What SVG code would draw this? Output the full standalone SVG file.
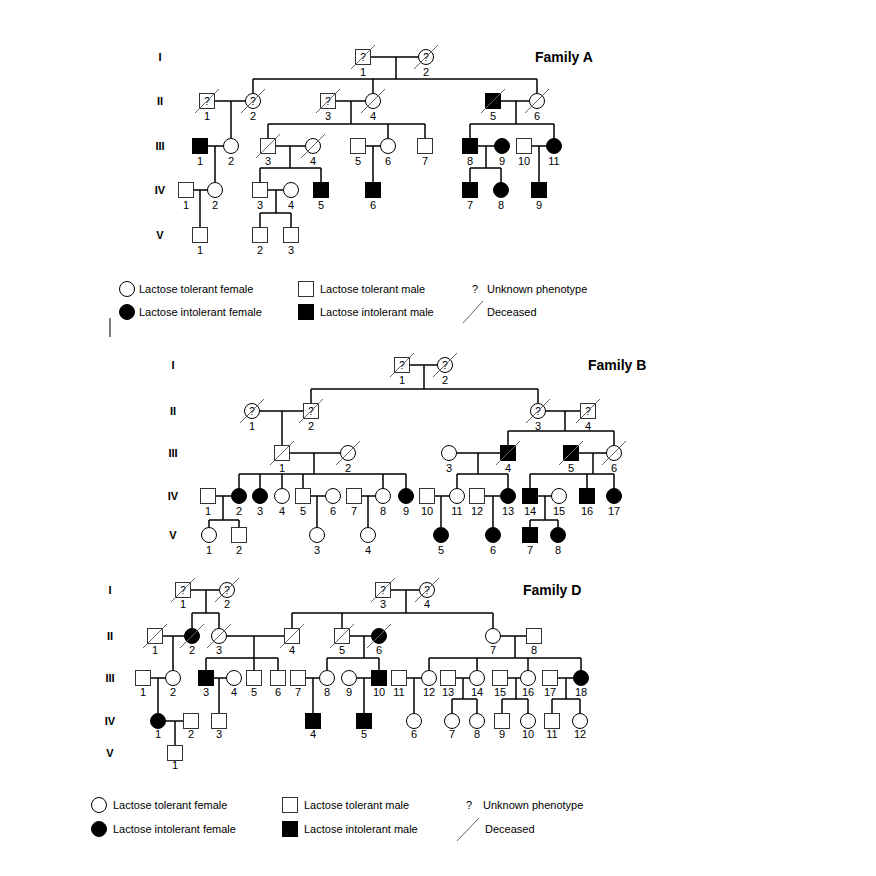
<svg xmlns="http://www.w3.org/2000/svg" xmlns:xlink="http://www.w3.org/1999/xlink" width="876" height="876" viewBox="0 0 876 876">
<style>
text{font-family:"Liberation Sans",Arial,sans-serif;font-size:11px;fill:#000}
.n{text-anchor:middle}
.q{text-anchor:middle;font-size:10px}
.g{font-weight:bold;text-anchor:middle}
.fam{font-weight:bold;font-size:14px}
.c path{fill:none;stroke:#000;stroke-width:1.5}
</style>
<defs>
<rect id="m" x="-7.5" y="-7.5" width="15" height="15" fill="#fff" stroke="#333" stroke-width="1"/>
<rect id="M" x="-7.5" y="-7.5" width="15" height="15" fill="#000" stroke="#000" stroke-width="1"/>
<circle id="f" r="7.5" fill="#fff" stroke="#000" stroke-width="1"/>
<circle id="F" r="7.5" fill="#000" stroke="#000" stroke-width="1"/>
<line id="s" x1="-12" y1="12" x2="12" y2="-12" stroke="#666" stroke-width="1"/>
</defs>
<rect width="876" height="876" fill="#fff"/>

<!-- generation labels -->
<g id="genA"><text class="g" x="160" y="61">I</text><text class="g" x="160" y="105">II</text><text class="g" x="160" y="150">III</text><text class="g" x="160" y="194">IV</text><text class="g" x="160" y="239">V</text></g>
<g id="genB"><text class="g" x="173" y="369">I</text><text class="g" x="173" y="415">II</text><text class="g" x="173" y="457">III</text><text class="g" x="173" y="500">IV</text><text class="g" x="173" y="539">V</text></g>
<g id="genD"><text class="g" x="110" y="594">I</text><text class="g" x="110" y="640">II</text><text class="g" x="110" y="682">III</text><text class="g" x="110" y="725">IV</text><text class="g" x="110" y="757">V</text></g>
<text class="fam" x="535" y="62">Family A</text>
<text class="fam" x="588" y="370">Family B</text>
<text class="fam" x="523" y="595">Family D</text>

<g class="c" id="connectors">
<path d="M363 57H426M396 57V79M253 79H537M253 79V93.5M373 79V93.5M537 79V93.5"/>
<path d="M207 101H253M231 101V138.5M328 101H373M351 101V124M268 124H425M268 124V138.5M388 124V138.5M425 124V138.5M493 101H537M516 101V124M470 124H554M470 124V138.5M554 124V138.5"/>
<path d="M200 146H231M215 146V182.5M268 146H313M290 146V168M260 168H321M260 168V182.5M321 168V182.5M358 146H388M373 146V182.5M470 146H502M486 146V168M470 168H501M470 168V182.5M501 168V182.5M524 146H554M539 146V182.5"/>
<path d="M186 190H215M200 190V227.5M260 190H291M276 190V213M260 213H291M260 213V227.5M291 213V227.5"/>
<path d="M402 365H445M424 365V389M311 389H538M311 389V403.5M538 389V403.5M252 411H311M282 411V445.5M538 411H588M565 411V431M508 431H614M508 431V445.5M614 431V445.5"/>
<path d="M282 453H348M314 453V474M239 474H406M239 474V488.5M260 474V488.5M282 474V488.5M303 474V488.5M383 474V488.5M406 474V488.5M449 453H508M478 453V474M457 474H508M457 474V488.5M508 474V488.5M571 453H614M593 453V474M530 474H614M530 474V488.5M587 474V488.5M614 474V488.5"/>
<path d="M208 496H239M223 496V520M209 520H239M209 520V527.5M239 520V527.5M303 496H333M317 496V527.5M354 496H383M368 496V527.5M427 496H457M441 496V527.5M477 496H508M493 496V527.5M530 496H559M545 496V520M530 520H558M530 520V527.5M558 520V527.5"/>
<path d="M183 590H227M206 590V613M192 613H219M192 613V628.5M219 613V628.5M383 590H427M406 590V613M292 613H493M292 613V628.5M342 613V628.5M493 613V628.5"/>
<path d="M155 636H192M173 636V670.5M219 636H292M254 636V658M206 658H278M206 658V670.5M254 658V670.5M278 658V670.5M342 636H379M364 636V658M327 658H379M327 658V670.5M379 658V670.5M493 636H534M515 636V658M429 658H581M429 658V670.5M477 658V670.5M528 658V670.5M581 658V670.5"/>
<path d="M143 678H173M158 678V713.5M206 678H234M219 678V713.5M298 678H327M313 678V713.5M349 678H379M364 678V713.5M399 678H429M414 678V713.5M448 678H477M463 678V699M452 699H477M452 699V713.5M477 699V713.5M500 678H528M516 678V699M502 699H528M502 699V713.5M528 699V713.5M550 678H581M566 678V699M552 699H580M552 699V713.5M580 699V713.5M158 721H191M175 721V745.5"/>
</g>

<!-- Family A -->
<g id="A-I-1" transform="translate(363,57)"><use href="#m"/><text class="q" y="4">?</text><use href="#s"/><text class="n" y="19">1</text></g>
<g id="A-I-2" transform="translate(426,57)"><use href="#f"/><text class="q" y="4">?</text><use href="#s"/><text class="n" y="19">2</text></g>
<g id="A-II-1" transform="translate(207,101)"><use href="#m"/><text class="q" y="4">?</text><use href="#s"/><text class="n" y="19">1</text></g>
<g id="A-II-2" transform="translate(253,101)"><use href="#f"/><text class="q" y="4">?</text><use href="#s"/><text class="n" y="19">2</text></g>
<g id="A-II-3" transform="translate(328,101)"><use href="#m"/><text class="q" y="4">?</text><use href="#s"/><text class="n" y="19">3</text></g>
<g id="A-II-4" transform="translate(373,101)"><use href="#f"/><use href="#s"/><text class="n" y="19">4</text></g>
<g id="A-II-5" transform="translate(493,101)"><use href="#M"/><use href="#s"/><text class="n" y="19">5</text></g>
<g id="A-II-6" transform="translate(537,101)"><use href="#f"/><use href="#s"/><text class="n" y="19">6</text></g>
<g id="A-III-1" transform="translate(200,146)"><use href="#M"/><text class="n" y="19">1</text></g>
<g id="A-III-2" transform="translate(231,146)"><use href="#f"/><text class="n" y="19">2</text></g>
<g id="A-III-3" transform="translate(268,146)"><use href="#m"/><use href="#s"/><text class="n" y="19">3</text></g>
<g id="A-III-4" transform="translate(313,146)"><use href="#f"/><use href="#s"/><text class="n" y="19">4</text></g>
<g id="A-III-5" transform="translate(358,146)"><use href="#m"/><text class="n" y="19">5</text></g>
<g id="A-III-6" transform="translate(388,146)"><use href="#f"/><text class="n" y="19">6</text></g>
<g id="A-III-7" transform="translate(425,146)"><use href="#m"/><text class="n" y="19">7</text></g>
<g id="A-III-8" transform="translate(470,146)"><use href="#M"/><text class="n" y="19">8</text></g>
<g id="A-III-9" transform="translate(502,146)"><use href="#F"/><text class="n" y="19">9</text></g>
<g id="A-III-10" transform="translate(524,146)"><use href="#m"/><text class="n" y="19">10</text></g>
<g id="A-III-11" transform="translate(554,146)"><use href="#F"/><text class="n" y="19">11</text></g>
<g id="A-IV-1" transform="translate(186,190)"><use href="#m"/><text class="n" y="19">1</text></g>
<g id="A-IV-2" transform="translate(215,190)"><use href="#f"/><text class="n" y="19">2</text></g>
<g id="A-IV-3" transform="translate(260,190)"><use href="#m"/><text class="n" y="19">3</text></g>
<g id="A-IV-4" transform="translate(291,190)"><use href="#f"/><text class="n" y="19">4</text></g>
<g id="A-IV-5" transform="translate(321,190)"><use href="#M"/><text class="n" y="19">5</text></g>
<g id="A-IV-6" transform="translate(373,190)"><use href="#M"/><text class="n" y="19">6</text></g>
<g id="A-IV-7" transform="translate(470,190)"><use href="#M"/><text class="n" y="19">7</text></g>
<g id="A-IV-8" transform="translate(501,190)"><use href="#F"/><text class="n" y="19">8</text></g>
<g id="A-IV-9" transform="translate(539,190)"><use href="#M"/><text class="n" y="19">9</text></g>
<g id="A-V-1" transform="translate(200,235)"><use href="#m"/><text class="n" y="19">1</text></g>
<g id="A-V-2" transform="translate(260,235)"><use href="#m"/><text class="n" y="19">2</text></g>
<g id="A-V-3" transform="translate(291,235)"><use href="#m"/><text class="n" y="19">3</text></g>

<!-- Legend A -->
<g id="legendA">
<use href="#f" x="127" y="289"/><text x="139" y="293">Lactose tolerant female</text>
<use href="#m" x="306" y="289"/><text x="320" y="293">Lactose tolerant male</text>
<text x="472" y="293">?</text><text x="487" y="293">Unknown phenotype</text>
<use href="#F" x="127" y="312"/><text x="139" y="316">Lactose intolerant female</text>
<use href="#M" x="306" y="312"/><text x="320" y="316">Lactose intolerant male</text>
<line x1="463" y1="323" x2="483" y2="301" stroke="#666" stroke-width="1"/><text x="487" y="316">Deceased</text>
<line x1="110" y1="318" x2="110" y2="337" stroke="#000" stroke-width="1"/>
</g>

<!-- Family B -->
<g id="B-I-1" transform="translate(402,365)"><use href="#m"/><text class="q" y="4">?</text><use href="#s"/><text class="n" y="19">1</text></g>
<g id="B-I-2" transform="translate(445,365)"><use href="#f"/><text class="q" y="4">?</text><use href="#s"/><text class="n" y="19">2</text></g>
<g id="B-II-1" transform="translate(252,411)"><use href="#f"/><text class="q" y="4">?</text><use href="#s"/><text class="n" y="19">1</text></g>
<g id="B-II-2" transform="translate(311,411)"><use href="#m"/><text class="q" y="4">?</text><use href="#s"/><text class="n" y="19">2</text></g>
<g id="B-II-3" transform="translate(538,411)"><use href="#f"/><text class="q" y="4">?</text><use href="#s"/><text class="n" y="19">3</text></g>
<g id="B-II-4" transform="translate(588,411)"><use href="#m"/><text class="q" y="4">?</text><use href="#s"/><text class="n" y="19">4</text></g>
<g id="B-III-1" transform="translate(282,453)"><use href="#m"/><use href="#s"/><text class="n" y="19">1</text></g>
<g id="B-III-2" transform="translate(348,453)"><use href="#f"/><use href="#s"/><text class="n" y="19">2</text></g>
<g id="B-III-3" transform="translate(449,453)"><use href="#f"/><text class="n" y="19">3</text></g>
<g id="B-III-4" transform="translate(508,453)"><use href="#M"/><use href="#s"/><text class="n" y="19">4</text></g>
<g id="B-III-5" transform="translate(571,453)"><use href="#M"/><use href="#s"/><text class="n" y="19">5</text></g>
<g id="B-III-6" transform="translate(614,453)"><use href="#f"/><use href="#s"/><text class="n" y="19">6</text></g>
<g id="B-IV-1" transform="translate(208,496)"><use href="#m"/><text class="n" y="19">1</text></g>
<g id="B-IV-2" transform="translate(239,496)"><use href="#F"/><text class="n" y="19">2</text></g>
<g id="B-IV-3" transform="translate(260,496)"><use href="#F"/><text class="n" y="19">3</text></g>
<g id="B-IV-4" transform="translate(282,496)"><use href="#f"/><text class="n" y="19">4</text></g>
<g id="B-IV-5" transform="translate(303,496)"><use href="#m"/><text class="n" y="19">5</text></g>
<g id="B-IV-6" transform="translate(333,496)"><use href="#f"/><text class="n" y="19">6</text></g>
<g id="B-IV-7" transform="translate(354,496)"><use href="#m"/><text class="n" y="19">7</text></g>
<g id="B-IV-8" transform="translate(383,496)"><use href="#f"/><text class="n" y="19">8</text></g>
<g id="B-IV-9" transform="translate(406,496)"><use href="#F"/><text class="n" y="19">9</text></g>
<g id="B-IV-10" transform="translate(427,496)"><use href="#m"/><text class="n" y="19">10</text></g>
<g id="B-IV-11" transform="translate(457,496)"><use href="#f"/><text class="n" y="19">11</text></g>
<g id="B-IV-12" transform="translate(477,496)"><use href="#m"/><text class="n" y="19">12</text></g>
<g id="B-IV-13" transform="translate(508,496)"><use href="#F"/><text class="n" y="19">13</text></g>
<g id="B-IV-14" transform="translate(530,496)"><use href="#M"/><text class="n" y="19">14</text></g>
<g id="B-IV-15" transform="translate(559,496)"><use href="#f"/><text class="n" y="19">15</text></g>
<g id="B-IV-16" transform="translate(587,496)"><use href="#M"/><text class="n" y="19">16</text></g>
<g id="B-IV-17" transform="translate(614,496)"><use href="#F"/><text class="n" y="19">17</text></g>
<g id="B-V-1" transform="translate(209,535)"><use href="#f"/><text class="n" y="19">1</text></g>
<g id="B-V-2" transform="translate(239,535)"><use href="#m"/><text class="n" y="19">2</text></g>
<g id="B-V-3" transform="translate(317,535)"><use href="#f"/><text class="n" y="19">3</text></g>
<g id="B-V-4" transform="translate(368,535)"><use href="#f"/><text class="n" y="19">4</text></g>
<g id="B-V-5" transform="translate(441,535)"><use href="#F"/><text class="n" y="19">5</text></g>
<g id="B-V-6" transform="translate(493,535)"><use href="#F"/><text class="n" y="19">6</text></g>
<g id="B-V-7" transform="translate(530,535)"><use href="#M"/><text class="n" y="19">7</text></g>
<g id="B-V-8" transform="translate(558,535)"><use href="#F"/><text class="n" y="19">8</text></g>

<!-- Family D -->
<g id="D-I-1" transform="translate(183,590)"><use href="#m"/><text class="q" y="4">?</text><use href="#s"/><text class="n" y="18">1</text></g>
<g id="D-I-2" transform="translate(227,590)"><use href="#f"/><text class="q" y="4">?</text><use href="#s"/><text class="n" y="18">2</text></g>
<g id="D-I-3" transform="translate(383,590)"><use href="#m"/><text class="q" y="4">?</text><use href="#s"/><text class="n" y="18">3</text></g>
<g id="D-I-4" transform="translate(427,590)"><use href="#f"/><text class="q" y="4">?</text><use href="#s"/><text class="n" y="18">4</text></g>
<g id="D-II-1" transform="translate(155,636)"><use href="#m"/><use href="#s"/><text class="n" y="18">1</text></g>
<g id="D-II-2" transform="translate(192,636)"><use href="#F"/><use href="#s"/><text class="n" y="18">2</text></g>
<g id="D-II-3" transform="translate(219,636)"><use href="#f"/><use href="#s"/><text class="n" y="18">3</text></g>
<g id="D-II-4" transform="translate(292,636)"><use href="#m"/><use href="#s"/><text class="n" y="18">4</text></g>
<g id="D-II-5" transform="translate(342,636)"><use href="#m"/><use href="#s"/><text class="n" y="18">5</text></g>
<g id="D-II-6" transform="translate(379,636)"><use href="#F"/><use href="#s"/><text class="n" y="18">6</text></g>
<g id="D-II-7" transform="translate(493,636)"><use href="#f"/><text class="n" y="18">7</text></g>
<g id="D-II-8" transform="translate(534,636)"><use href="#m"/><text class="n" y="18">8</text></g>
<g id="D-III-1" transform="translate(143,678)"><use href="#m"/><text class="n" y="18">1</text></g>
<g id="D-III-2" transform="translate(173,678)"><use href="#f"/><text class="n" y="18">2</text></g>
<g id="D-III-3" transform="translate(206,678)"><use href="#M"/><text class="n" y="18">3</text></g>
<g id="D-III-4" transform="translate(234,678)"><use href="#f"/><text class="n" y="18">4</text></g>
<g id="D-III-5" transform="translate(254,678)"><use href="#m"/><text class="n" y="18">5</text></g>
<g id="D-III-6" transform="translate(278,678)"><use href="#m"/><text class="n" y="18">6</text></g>
<g id="D-III-7" transform="translate(298,678)"><use href="#m"/><text class="n" y="18">7</text></g>
<g id="D-III-8" transform="translate(327,678)"><use href="#f"/><text class="n" y="18">8</text></g>
<g id="D-III-9" transform="translate(349,678)"><use href="#f"/><text class="n" y="18">9</text></g>
<g id="D-III-10" transform="translate(379,678)"><use href="#M"/><text class="n" y="18">10</text></g>
<g id="D-III-11" transform="translate(399,678)"><use href="#m"/><text class="n" y="18">11</text></g>
<g id="D-III-12" transform="translate(429,678)"><use href="#f"/><text class="n" y="18">12</text></g>
<g id="D-III-13" transform="translate(448,678)"><use href="#m"/><text class="n" y="18">13</text></g>
<g id="D-III-14" transform="translate(477,678)"><use href="#f"/><text class="n" y="18">14</text></g>
<g id="D-III-15" transform="translate(500,678)"><use href="#m"/><text class="n" y="18">15</text></g>
<g id="D-III-16" transform="translate(528,678)"><use href="#f"/><text class="n" y="18">16</text></g>
<g id="D-III-17" transform="translate(550,678)"><use href="#m"/><text class="n" y="18">17</text></g>
<g id="D-III-18" transform="translate(581,678)"><use href="#F"/><text class="n" y="18">18</text></g>
<g id="D-IV-1" transform="translate(158,721)"><use href="#F"/><text class="n" y="17">1</text></g>
<g id="D-IV-2" transform="translate(191,721)"><use href="#m"/><text class="n" y="17">2</text></g>
<g id="D-IV-3" transform="translate(219,721)"><use href="#m"/><text class="n" y="17">3</text></g>
<g id="D-IV-4" transform="translate(313,721)"><use href="#M"/><text class="n" y="17">4</text></g>
<g id="D-IV-5" transform="translate(364,721)"><use href="#M"/><text class="n" y="17">5</text></g>
<g id="D-IV-6" transform="translate(414,721)"><use href="#f"/><text class="n" y="17">6</text></g>
<g id="D-IV-7" transform="translate(452,721)"><use href="#f"/><text class="n" y="17">7</text></g>
<g id="D-IV-8" transform="translate(477,721)"><use href="#f"/><text class="n" y="17">8</text></g>
<g id="D-IV-9" transform="translate(502,721)"><use href="#m"/><text class="n" y="17">9</text></g>
<g id="D-IV-10" transform="translate(528,721)"><use href="#f"/><text class="n" y="17">10</text></g>
<g id="D-IV-11" transform="translate(552,721)"><use href="#m"/><text class="n" y="17">11</text></g>
<g id="D-IV-12" transform="translate(580,721)"><use href="#f"/><text class="n" y="17">12</text></g>
<g id="D-V-1" transform="translate(175,753)"><use href="#m"/><text class="n" y="16">1</text></g>

<!-- Legend D -->
<g id="legendD">
<use href="#f" x="99" y="805"/><text x="113" y="809">Lactose tolerant female</text>
<use href="#m" x="290" y="805"/><text x="304" y="809">Lactose tolerant male</text>
<text x="466" y="809">?</text><text x="483" y="809">Unknown phenotype</text>
<use href="#F" x="99" y="829"/><text x="113" y="833">Lactose intolerant female</text>
<use href="#M" x="290" y="829"/><text x="304" y="833">Lactose intolerant male</text>
<line x1="457" y1="841" x2="479" y2="818" stroke="#666" stroke-width="1"/><text x="485" y="833">Deceased</text>
</g>
</svg>
